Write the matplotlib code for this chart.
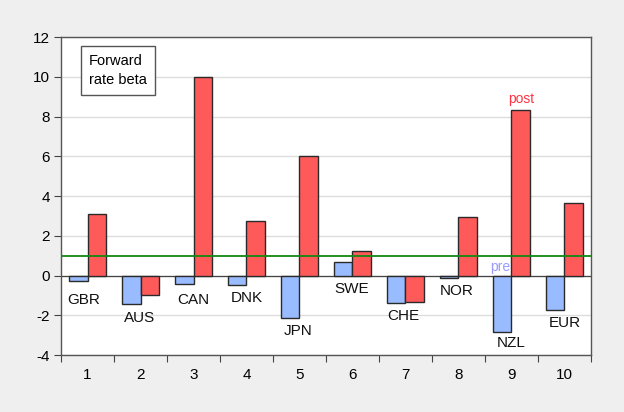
import numpy as np
import matplotlib.pyplot as plt
from matplotlib.ticker import FixedLocator, NullFormatter

# Forward rate beta, pre and post sample, by currency
countries = ["GBR", "AUS", "CAN", "DNK", "JPN", "SWE", "CHE", "NOR", "NZL", "EUR"]
pre = [-0.30, -1.41, -0.45, -0.50, -2.16, 0.70, -1.36, -0.12, -2.83, -1.74]
post = [3.12, -0.96, 10.0, 2.76, 6.01, 1.21, -1.31, 2.93, 8.34, 3.67]
ref_line = 1.0

# where the country names sit (annotation placement)
label_x = [0.92, 1.99, 3.0, 4.0, 4.98, 5.98, 6.96, 7.97, 8.99, 10.0]
label_y = [-1.24, -2.15, -1.24, -1.14, -2.80, -0.69, -2.05, -0.79, -3.40, -2.40]

plt.rcParams["font.family"] = ["Liberation Sans", "DejaVu Sans"]
plt.rcParams["axes.unicode_minus"] = False

fig = plt.figure(figsize=(6.24, 4.12), dpi=100, facecolor="#efefef")
ax = fig.add_axes([0.0978, 0.1383, 0.8492, 0.7717])

x = np.arange(1, len(countries) + 1)
w = 0.35
ax.bar(x - w / 2, pre, width=w, color="#99bbff", edgecolor="#2a2a2a",
       linewidth=1.0, zorder=3)
ax.bar(x + w / 2, post, width=w, color="#ff5a5a", edgecolor="#2a2a2a",
       linewidth=1.0, zorder=3)

ax.axhline(0, color="#444444", linewidth=0.9, zorder=2)
ax.axhline(ref_line, color="#118811", linewidth=1.3, zorder=4)

for name, lx, ly in zip(countries, label_x, label_y):
    ax.text(lx, ly, name, ha="center", va="center", fontsize=11,
            color="#111111", zorder=5)

ax.text(8.78, 0.45, "pre", ha="center", va="center", fontsize=10,
        color="#9b9bff", zorder=5)
ax.text(9.18, 8.86, "post", ha="center", va="center", fontsize=10,
        color="#ff3344", zorder=5)

ax.text(1.03, 10.3, "Forward\nrate beta", ha="left", va="center",
        fontsize=10.5, linespacing=1.45, zorder=5,
        bbox=dict(boxstyle="square,pad=0.55", facecolor="white",
                  edgecolor="#555555", linewidth=1.0))

ax.set_xlim(0.5, len(countries) + 0.5)
ax.set_ylim(-4, 12)
ax.set_yticks(np.arange(-4, 13, 2))
ax.yaxis.grid(True, color="#dddddd", linewidth=1.0, zorder=0)
ax.set_axisbelow(True)

# ticks at category boundaries, labels at centres
ax.xaxis.set_major_locator(FixedLocator(np.arange(0.5, len(countries) + 1, 1)))
ax.xaxis.set_major_formatter(NullFormatter())
ax.xaxis.set_minor_locator(FixedLocator(x))
ax.set_xticklabels([str(i) for i in x], minor=True)
ax.tick_params(axis="x", which="minor", length=0, pad=9, labelsize=11)
ax.tick_params(axis="x", which="major", length=5, color="#444444")
ax.tick_params(axis="y", length=5, color="#444444", labelsize=11, pad=3)

for s in ax.spines.values():
    s.set_color("#555555")
    s.set_linewidth(1.0)

plt.savefig("out.png", dpi=100, facecolor=fig.get_facecolor())
